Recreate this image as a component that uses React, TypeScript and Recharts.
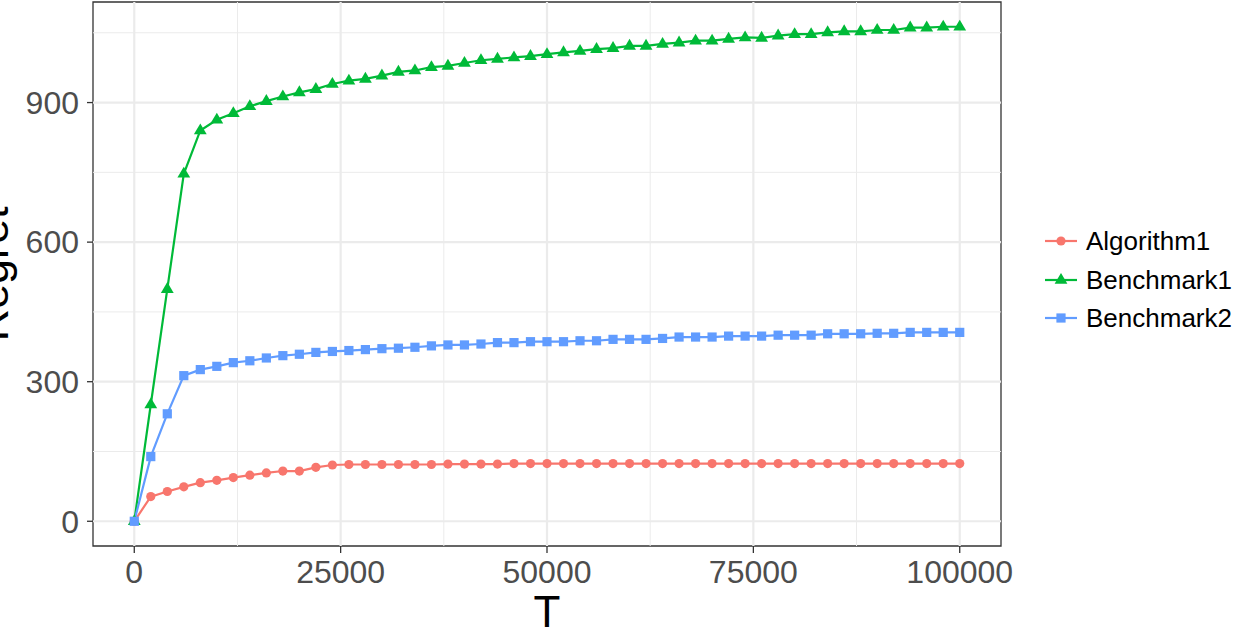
import { LineChart, Line, XAxis, YAxis, ReferenceLine, ReferenceArea } from 'recharts';

const T = [
  0, 2000, 4000, 6000, 8000, 10000, 12000, 14000, 16000, 18000, 20000, 22000, 24000, 26000, 28000, 30000, 32000,
  34000, 36000, 38000, 40000, 42000, 44000, 46000, 48000, 50000, 52000, 54000, 56000, 58000, 60000, 62000, 64000,
  66000, 68000, 70000, 72000, 74000, 76000, 78000, 80000, 82000, 84000, 86000, 88000, 90000, 92000, 94000, 96000,
  98000, 100000,
];

const ALGORITHM1 = [
  0, 53, 64, 74, 83, 88, 94, 99, 104, 108, 108, 116, 121, 122, 122, 122, 122, 122, 122, 123, 123, 123, 123, 124,
  124, 124, 124, 124, 124, 124, 124, 124, 124, 124, 124, 124, 124, 124, 124, 124, 124, 124, 124, 124, 124, 124,
  124, 124, 124, 124, 124,
];

const BENCHMARK1 = [
  0, 251, 499, 747, 840, 863, 877, 892, 903, 913, 922, 929, 940, 947, 951, 958, 966, 969, 976, 979, 985, 991, 994,
  997, 1000, 1004, 1008, 1011, 1015, 1017, 1022, 1022, 1026, 1029, 1033, 1033, 1037, 1040, 1039, 1044, 1047, 1047,
  1051, 1053, 1053, 1056, 1056, 1061, 1061, 1063, 1063,
];

const BENCHMARK2 = [
  0, 139, 231, 313, 326, 333, 341, 345, 351, 356, 359, 363, 365, 367, 369, 371, 372, 374, 377, 379, 379, 381, 384,
  384, 386, 386, 386, 388, 388, 391, 391, 391, 393, 396, 396, 396, 398, 398, 398, 400, 400, 400, 403, 403, 403, 404,
  404, 406, 406, 406, 406,
];

const X_TICKS = [0, 25000, 50000, 75000, 100000];
const X_MINOR = [12500, 37500, 62500, 87500];
const Y_TICKS = [0, 300, 600, 900];
const Y_MINOR = [150, 450, 750, 1050];

const FONT = '"Liberation Sans", Arial, sans-serif';

const data = T.map((t, i) => ({
  t,
  Algorithm1: ALGORITHM1[i],
  Benchmark1: BENCHMARK1[i],
  Benchmark2: BENCHMARK2[i],
}));

type Shape = 'circle' | 'triangle' | 'square';

const SERIES: { key: string; color: string; shape: Shape }[] = [
  { key: 'Algorithm1', color: '#F8766D', shape: 'circle' },
  { key: 'Benchmark1', color: '#00BA38', shape: 'triangle' },
  { key: 'Benchmark2', color: '#619CFF', shape: 'square' },
];

function marker(shape: Shape, cx: number, cy: number, color: string, key?: string | number) {
  if (shape === 'circle') return <circle key={key} cx={cx} cy={cy} r={4.6} fill={color} />;
  if (shape === 'square') return <rect key={key} x={cx - 4.6} y={cy - 4.6} width={9.2} height={9.2} fill={color} />;
  const s = 6.4;
  return (
    <polygon
      key={key}
      points={`${cx},${cy - s * 1.1} ${cx - s},${cy + s * 0.6} ${cx + s},${cy + s * 0.6}`}
      fill={color}
    />
  );
}

function Legend() {
  return (
    <div style={{ position: 'absolute', left: 1043, top: 222, fontFamily: FONT }}>
      {SERIES.map((s) => (
        <div key={s.key} style={{ display: 'flex', alignItems: 'center', height: 38.5 }}>
          <svg width={36} height={20} style={{ display: 'block' }}>
            <line x1={2} y1={10} x2={34} y2={10} stroke={s.color} strokeWidth={2.2} />
            {marker(s.shape, 18, 10, s.color)}
          </svg>
          <span style={{ fontSize: 26, color: '#000', marginLeft: 7, lineHeight: '26px' }}>{s.key}</span>
        </div>
      ))}
    </div>
  );
}

export default function App() {
  const tickStyle = { fontSize: 32, fill: '#4D4D4D', fontFamily: FONT };
  return (
    <div style={{ position: 'absolute', left: 0, top: 0, width: 1239, height: 629, background: '#fff' }}>
      <LineChart width={1239} height={629} data={data} margin={{ top: 2, right: 238, bottom: 0, left: 0 }}>
        <XAxis
          dataKey="t"
          type="number"
          domain={[-5000, 105000]}
          ticks={X_TICKS}
          axisLine={false}
          tickLine={{ stroke: '#333333', strokeWidth: 1.3 }}
          tickSize={7}
          tickMargin={7}
          height={83}
          tick={tickStyle}
          interval={0}
          label={{
            content: (props: any) => {
              const vb = props.viewBox;
              return (
                <text x={vb.x + vb.width / 2} y={627} textAnchor="middle" fontSize={44} fontFamily={FONT} fill="#000">
                  T
                </text>
              );
            },
          } as never}
        />
        <YAxis
          type="number"
          domain={[-53.15, 1116.15]}
          ticks={Y_TICKS}
          axisLine={false}
          tickLine={{ stroke: '#333333', strokeWidth: 1.3 }}
          tickSize={6}
          tickMargin={8}
          width={93}
          tick={tickStyle}
          interval={0}
          label={{
            content: (props: any) => {
              const vb = props.viewBox;
              const cy = vb.y + vb.height / 2;
              return (
                <text
                  x={8}
                  y={cy}
                  transform={`rotate(-90, 8, ${cy})`}
                  textAnchor="middle"
                  fontSize={45}
                  fontFamily={FONT}
                  fill="#000"
                >
                  Regret
                </text>
              );
            },
          } as never}
        />
        {X_MINOR.map((v) => (
          <ReferenceLine key={`xm${v}`} x={v} stroke="#EBEBEB" strokeWidth={1} />
        ))}
        {Y_MINOR.map((v) => (
          <ReferenceLine key={`ym${v}`} y={v} stroke="#EBEBEB" strokeWidth={1} />
        ))}
        {X_TICKS.map((v) => (
          <ReferenceLine key={`x${v}`} x={v} stroke="#EBEBEB" strokeWidth={2.2} />
        ))}
        {Y_TICKS.map((v) => (
          <ReferenceLine key={`y${v}`} y={v} stroke="#EBEBEB" strokeWidth={2.2} />
        ))}
        <ReferenceArea
          x1={-5000}
          x2={105000}
          y1={-53.15}
          y2={1116.15}
          fill="none"
          fillOpacity={0}
          stroke="#333333"
          strokeWidth={1.3}
        />
        {SERIES.map((s) => (
          <Line
            key={s.key}
            dataKey={s.key}
            type="linear"
            stroke={s.color}
            strokeWidth={2.2}
            isAnimationActive={false}
            dot={(p: any) => marker(s.shape, p.cx, p.cy, s.color, `${s.key}-${p.index}`)}
            activeDot={false}
          />
        ))}
      </LineChart>
      <Legend />
    </div>
  );
}
